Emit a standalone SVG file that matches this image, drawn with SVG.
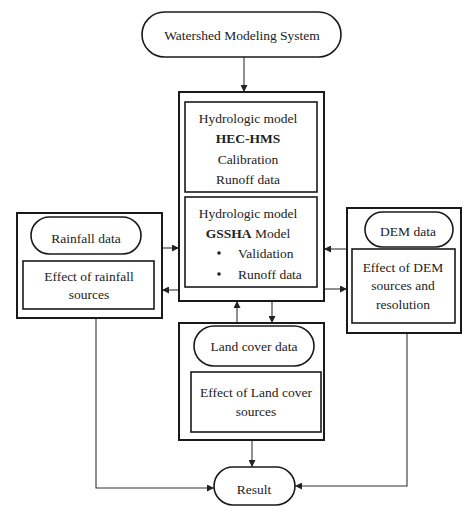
<svg xmlns="http://www.w3.org/2000/svg" width="474" height="513" viewBox="0 0 474 513">
<defs>
<marker id="ah" viewBox="0 0 10 10" refX="10" refY="5" markerWidth="7" markerHeight="7" markerUnits="userSpaceOnUse" orient="auto">
<path d="M0,0 L10,5 L0,10 z" fill="#222"/>
</marker>
</defs>
<style>
.box{fill:#fff;stroke:#1a1a1a;stroke-width:2}
.inner{fill:#fff;stroke:#1a1a1a;stroke-width:1.6}
.pill{fill:#fff;stroke:#1a1a1a;stroke-width:1.6}
.t{font-family:"Liberation Serif","Times New Roman",serif;font-size:13.5px;fill:#222;text-anchor:middle}
.b{font-weight:bold}
.c{fill:none;stroke:#333;stroke-width:1.1;marker-end:url(#ah)}
</style>
<rect width="474" height="513" fill="#fff"/>
<g id="connectors">
<path class="c" d="M244,57 V92"/>
<path class="c" d="M162,248 H179"/>
<path class="c" d="M179,290 H162"/>
<path class="c" d="M347,249 H324"/>
<path class="c" d="M324,289 H347"/>
<path class="c" d="M237,323 V301"/>
<path class="c" d="M272,301 V323"/>
<path class="c" d="M96,318 V488 H214"/>
<path class="c" d="M407,333 V486 H295"/>
<path class="c" d="M252,440 V467"/>
</g>
<g id="watershed">
<rect class="pill" x="142" y="12" width="199" height="45" rx="22.5"/>
<text class="t" x="242" y="40">Watershed Modeling System</text>
</g>
<g id="hydro">
<rect class="box" x="179" y="92" width="145" height="209"/>
<g id="hecHms">
<rect class="inner" x="185" y="102" width="132" height="90"/>
<text class="t" x="248" y="123">Hydrologic model</text>
<text class="t b" x="248" y="143">HEC-HMS</text>
<text class="t" x="248" y="164">Calibration</text>
<text class="t" x="248" y="184">Runoff data</text>
</g>
<g id="gssha">
<rect class="inner" x="185" y="197" width="132" height="90"/>
<text class="t" x="248" y="218">Hydrologic model</text>
<text class="t" x="248" y="238"><tspan class="b">GSSHA</tspan> Model</text>
<circle cx="219" cy="253" r="1.8" fill="#222"/>
<text class="t" x="238" y="258" style="text-anchor:start">Validation</text>
<circle cx="219" cy="274" r="1.8" fill="#222"/>
<text class="t" x="238" y="279" style="text-anchor:start">Runoff data</text>
</g>
</g>
<g id="rainfall">
<rect class="box" x="17" y="213" width="145" height="105"/>
<rect class="pill" x="31" y="217" width="110" height="37" rx="18.5"/>
<text class="t" x="86" y="243">Rainfall data</text>
<rect class="inner" x="23" y="261" width="131" height="48"/>
<text class="t" x="89" y="281">Effect of rainfall</text>
<text class="t" x="89" y="299">sources</text>
</g>
<g id="dem">
<rect class="box" x="347" y="208" width="114" height="125"/>
<rect class="pill" x="365" y="212" width="88" height="35" rx="17.5"/>
<text class="t" x="408" y="236">DEM data</text>
<rect class="inner" x="352" y="249" width="103" height="74"/>
<text class="t" x="403" y="272">Effect of DEM</text>
<text class="t" x="403" y="290">sources and</text>
<text class="t" x="403" y="309">resolution</text>
</g>
<g id="landcover">
<rect class="box" x="179" y="323" width="145" height="117"/>
<rect class="pill" x="194" y="326" width="120" height="40" rx="20"/>
<text class="t" x="254" y="351">Land cover data</text>
<rect class="inner" x="191" y="372" width="130" height="60"/>
<text class="t" x="256" y="397">Effect of Land cover</text>
<text class="t" x="256" y="416">sources</text>
</g>
<g id="result">
<rect class="pill" x="214" y="467" width="81" height="38" rx="19"/>
<text class="t" x="254" y="494">Result</text>
</g>
</svg>
